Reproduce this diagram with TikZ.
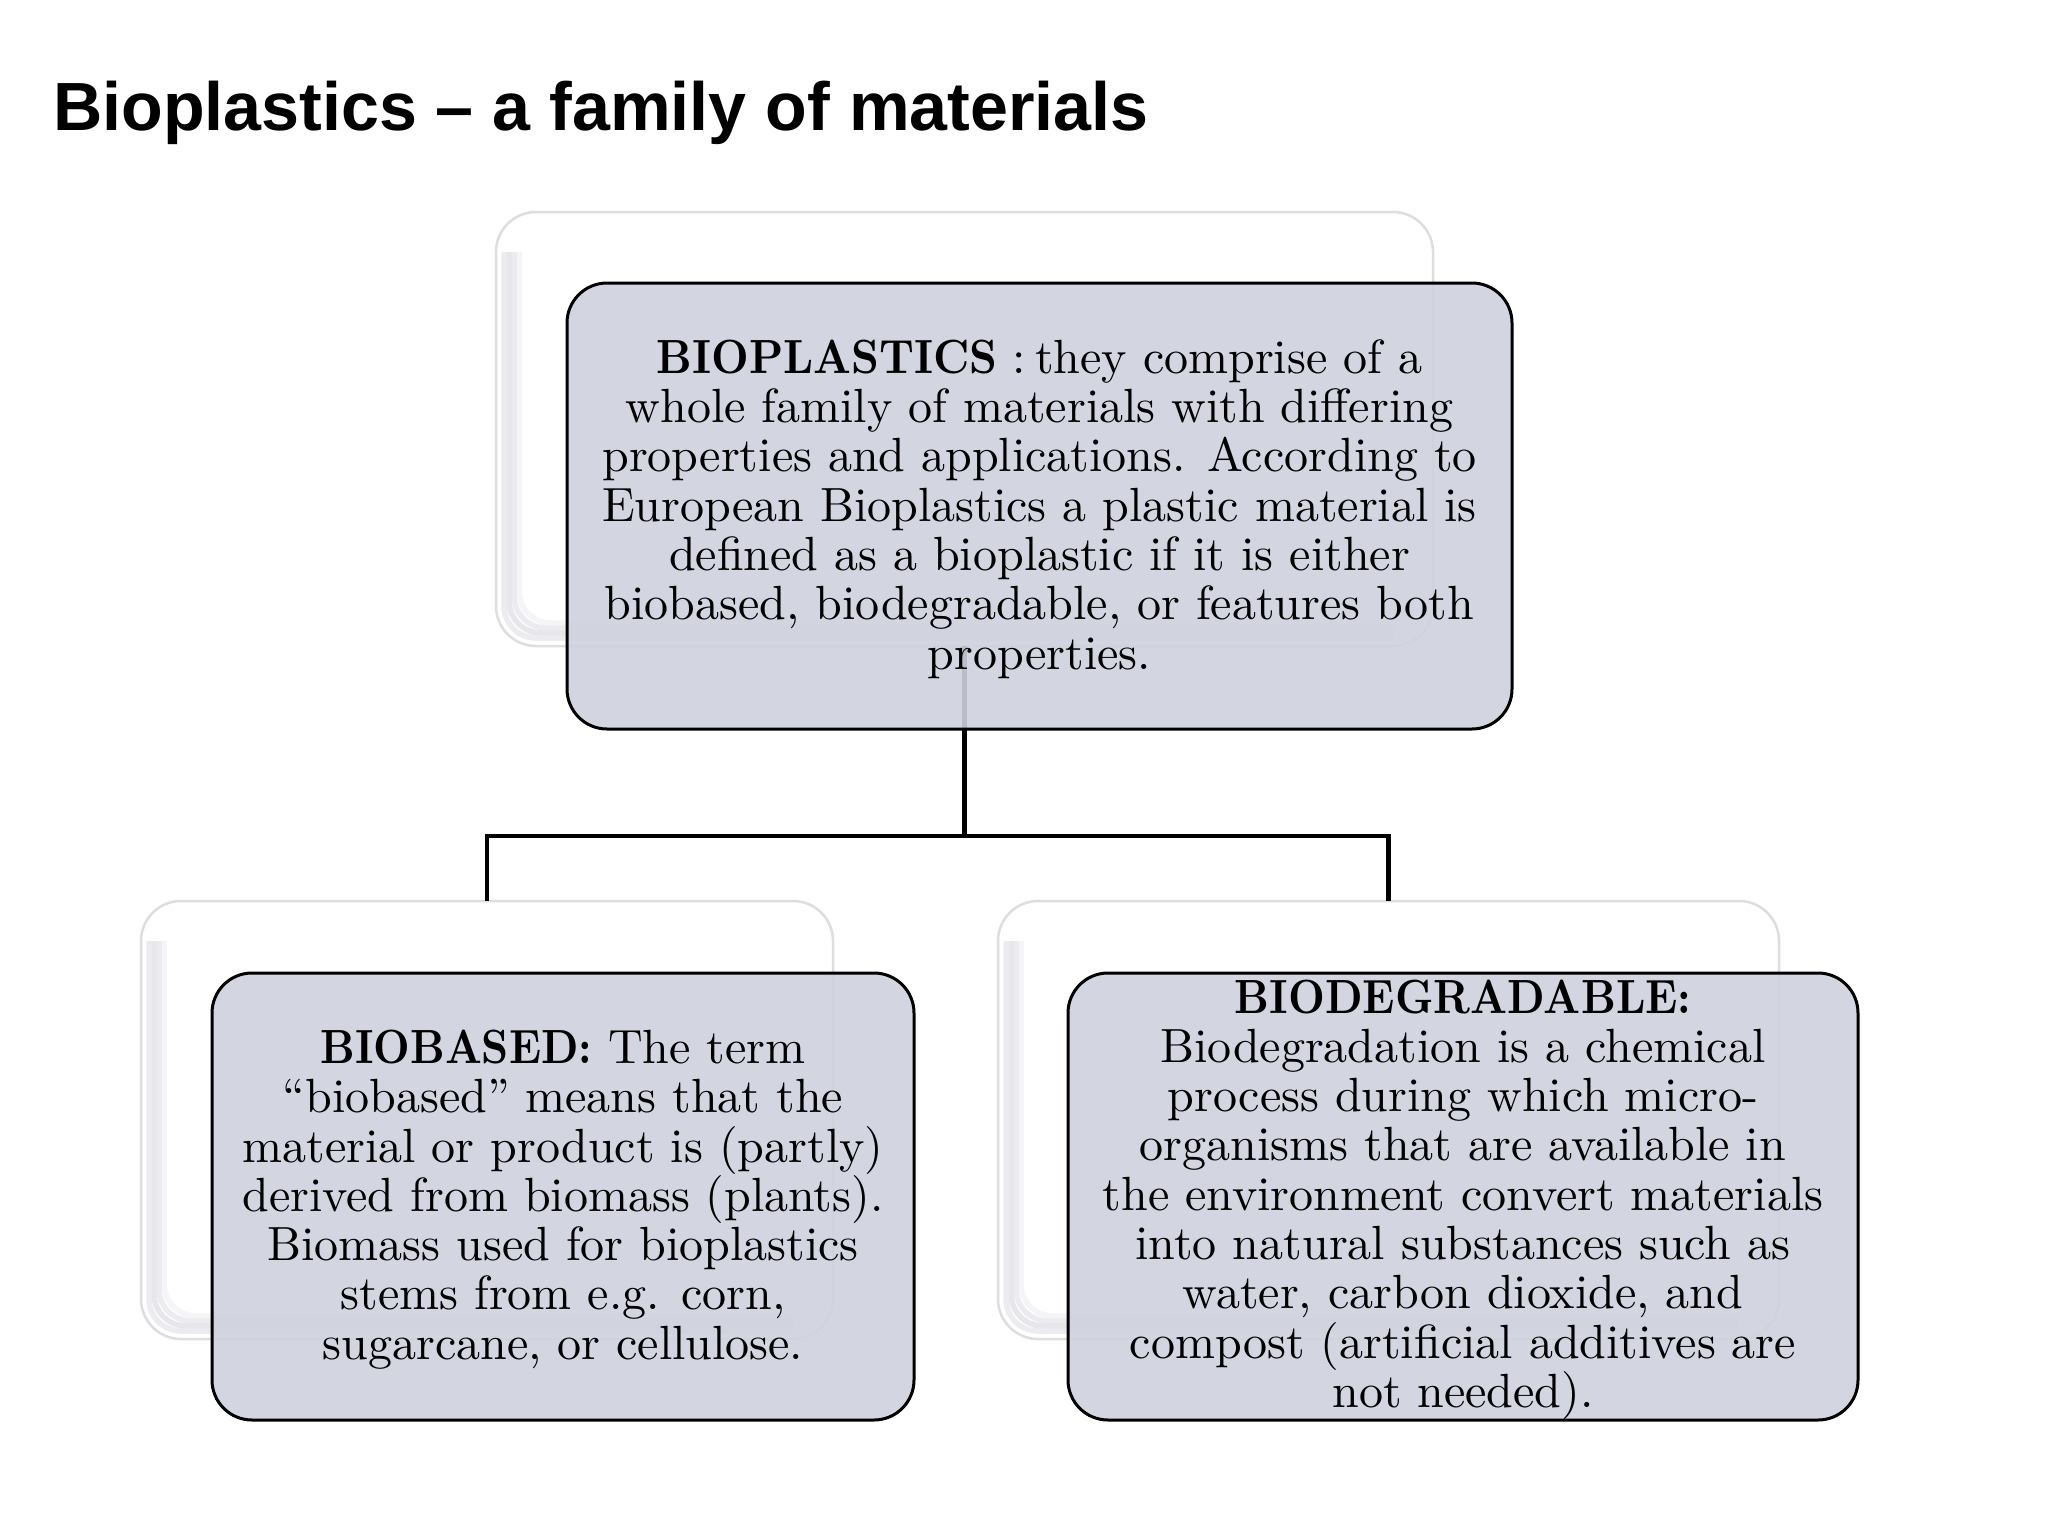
\documentclass[tikz,border=0pt]{standalone}
\usepackage{graphicx}
\usepackage{fontspec}
\newfontfamily\titlefont{Liberation Sans}
\newfontfamily\bodyfont{lmroman10-regular.otf}[BoldFont=lmroman10-bold.otf, Ligatures=TeX]
\usetikzlibrary{calc}
\definecolor{frontfill}{RGB}{207,209,221}
\definecolor{backline}{RGB}{222,222,224}
\definecolor{shadeA}{RGB}{236,236,240}
\definecolor{shadeB}{RGB}{230,230,235}
\definecolor{shadeC}{RGB}{236,236,240}
\definecolor{shadeD}{RGB}{245,245,247}
\begin{document}
\begin{tikzpicture}[x=1pt,y=-1pt,
  backbox/.style={draw=backline, line width=2.5pt, fill=white, rounded corners=40pt, inner sep=0pt, outer sep=0pt},
  frontbox/.style={draw=black, line width=3pt, fill=frontfill, fill opacity=0.9, rounded corners=40pt, inner sep=0pt, outer sep=0pt},
  band/.style={line width=5.5pt, rounded corners=32pt},
  conn/.style={line width=4.5pt, draw=black, line join=miter},
  bodytext/.style={align=center, font=\bodyfont\fontsize{48}{49.3}\selectfont, inner sep=0pt, yshift=-3pt},
  titletext/.style={font=\titlefont\bfseries\fontsize{68.2}{80}\selectfont, anchor=base west, inner sep=0pt}
]
\useasboundingbox[fill=white] (0,0) rectangle (2048,1536);

\node[titletext] (title) at (53,131) {Bioplastics – a family of materials};

% back boxes
\node[backbox, minimum width=937pt, minimum height=434pt] (topback) at (964.5,429) {};
\node[backbox, minimum width=692pt, minimum height=438pt] (leftback) at (487,1120) {};
\node[backbox, minimum width=781pt, minimum height=438pt] (rightback) at (1388.5,1120) {};

\foreach \b in {topback,leftback,rightback}{
  \foreach \i/\c in {23/shadeD,18/shadeC,13/shadeB,8/shadeA}{
    \draw[band, draw=\c] ($(\b.north west)+(\i,40)$) -- ($(\b.south west)+(\i,-\i)$) -- ($(\b.south east)+(-40,-\i)$);
  }
}

% connectors
\coordinate (junc) at (964.5,836);
\draw[conn] (topback.south) -- (junc);
\draw[conn] (leftback.north) |- (junc) -| (rightback.north);

% front boxes
\node[frontbox, minimum width=945pt, minimum height=446pt] (topfront) at (1039.5,506) {};
\node[frontbox, minimum width=702pt, minimum height=447pt] (leftfront) at (563,1196.5) {};
\node[frontbox, minimum width=790pt, minimum height=447pt] (rightfront) at (1463,1196.5) {};

% texts
\node[bodytext] (toptext) at (topfront.center) {\scalebox{0.91}[1]{\bfseries BIOPLASTICS}\hspace{0.3em}:\hspace{0.2em}they comprise of a\\
whole family of materials with differing\\
properties and applications. According to\\
European Bioplastics a plastic material is\\
defined as a bioplastic if it is either\\
biobased, biodegradable, or features both\\
properties.};

\node[bodytext] (lefttext) at (leftfront.center) {\scalebox{0.885}[1]{\bfseries BIOBASED:} The term\\
“biobased” means that the\\
material or product is (partly)\\
derived from biomass (plants).\\
Biomass used for bioplastics\\
stems from e.g. corn,\\
sugarcane, or cellulose.};

\node[bodytext] (righttext) at (rightfront.center) {\scalebox{0.89}[1]{\bfseries BIODEGRADABLE:}\\
Biodegradation is a chemical\\
process during which micro-\\
organisms that are available in\\
the environment convert materials\\
into natural substances such as\\
water, carbon dioxide, and\\
compost (artificial additives are\\
not needed).};
\end{tikzpicture}
\end{document}
